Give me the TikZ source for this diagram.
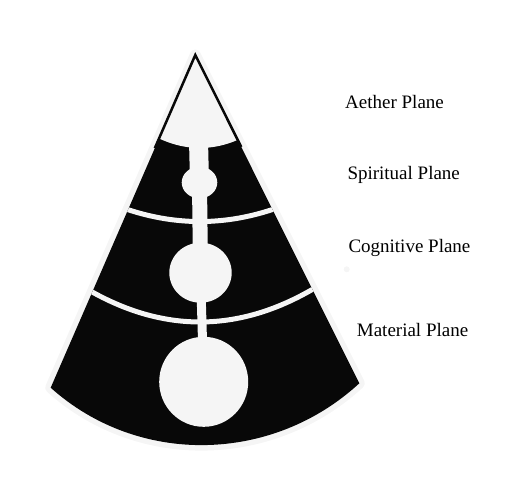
\documentclass[tikz,border=0pt]{standalone}
\usepackage{fontspec}
\setmainfont{Liberation Serif}
\usepackage{tikz}
\usetikzlibrary{calc, shapes.geometric}

\definecolor{planelight}{HTML}{F5F5F5}
\definecolor{conedark}{HTML}{080808}

\begin{document}
\begin{tikzpicture}[x=1pt, y=-1pt,
      rim/.style={draw=planelight, line width=11pt, line join=round},
      divider/.style={draw=planelight, line width=5pt},
      stem/.style={draw=planelight, line cap=butt},
      orb/.style={ellipse, fill=planelight, inner sep=0pt},
      planelabel/.style={anchor=base west, font=\fontsize{19}{22}\selectfont, inner sep=0pt}]
    \useasboundingbox (0,0) rectangle (516,485);
    % --- the cone ---
    \coordinate (apex)  at (195.3,55);
    \coordinate (baseL) at (50.7,387.7);
    \coordinate (baseR) at (359.3,383.3);
    \path[fill=conedark, preaction={rim}]
      (apex) -- (baseL) .. controls (138.5,466.5) and (272.6,463.3) .. (baseR) -- cycle;
    \begin{scope}
      \clip (apex) -- (baseL) .. controls (138.5,466.5) and (272.6,463.3) .. (baseR) -- cycle;
      % aether cap and the plane borders
      \fill[planelight] (150,133.8) .. controls (183.3,152.7) and (216.7,152.7) .. (250,133.8)
        -- (250,30) -- (150,30) -- cycle;
      \draw[divider] (110,203) .. controls (170,227.7) and (230,227.7) .. (290,203);
      \draw[divider] (70,278.4) .. controls (156.7,336.5) and (243.3,336.5) .. (330,278.4);
    \end{scope}
    \draw[conedark, line width=2.5pt, line join=miter]
      ($(apex)!0.28!(baseL)$) -- (apex) -- ($(apex)!0.28!(baseR)$);
    % --- the column of orbs ---
    \coordinate (stemtop) at (198.5,140);
    \coordinate (cS) at (199.5,182.5);
    \coordinate (cC) at (200.5,272.7);
    \coordinate (cM) at (203.7,381.8);
    \draw[stem, line width=19pt] (stemtop) -- (cS);
    \draw[stem, line width=15pt] (cS) -- (cC);
    \draw[stem, line width=9pt]  (cC) -- (cM);
    \node[orb, minimum width=35.6pt, minimum height=31.6pt] (orbS) at (cS) {};
    \node[orb, minimum width=62.4pt, minimum height=60pt]   (orbC) at (cC) {};
    \node[orb, minimum width=89pt,   minimum height=90pt]   (orbM) at (cM) {};
    % --- labels ---
    \node[planelabel] (aether)    at (345,108.3)   {Aether Plane};
    \node[planelabel] (spiritual) at (347.3,179.3) {Spiritual Plane};
    \node[planelabel] (cognitive) at (348.3,252.7) {Cognitive Plane};
    \node[planelabel] (material)  at (356.7,336.7) {Material Plane};
    \fill[planelight] (346.7,269.3) circle (3);
\end{tikzpicture}
\end{document}
